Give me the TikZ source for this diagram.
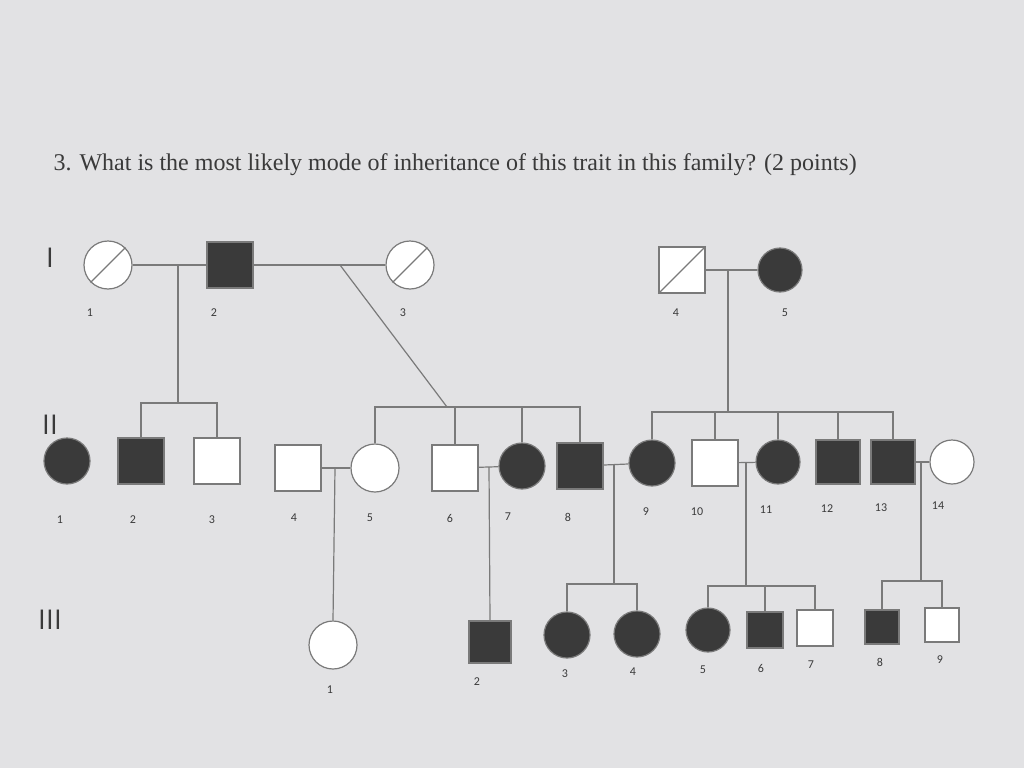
\documentclass[tikz,border=0pt]{standalone}
\usepackage{fontspec}
\setmainfont{Liberation Serif}
\newfontfamily\numfont{Carlito}
\definecolor{paper}{HTML}{E2E2E4}
\definecolor{ink}{HTML}{3A3A3A}
\definecolor{ln}{HTML}{7A7A7A}
\begin{document}
\begin{tikzpicture}[x=1pt,y=-1pt,
  conn/.style={draw=ln,line width=1.2pt},
  sq/.style={draw=ln,line width=1.2pt,fill=white,minimum size=#1,inner sep=0pt,rectangle},
  ci/.style={draw=ln,line width=1.2pt,fill=white,minimum size=#1,inner sep=0pt,circle},
  aff/.style={fill=ink},
  num/.style={font=\numfont\fontsize{12}{13}\selectfont,text=ink},
  gen/.style={font=\sffamily\fontsize{28}{30}\selectfont\color{ink}}]
\fill[paper] (0,0) rectangle (1024,768);
\useasboundingbox (0,0) rectangle (1024,768);
\node[anchor=west,font=\fontsize{24}{28}\selectfont,text=ink] (q) at (50,165) {3. What is the most likely mode of inheritance of this trait in this family? (2 points)};
\node[gen] (g1) at (50,258) {I};
\node[gen] (g2) at (50,425) {II};
\node[gen] (g3) at (50,620) {III};
% Gen I
\node[ci=48] (a1) at (108,265) {};
\node[sq=46,aff] (a2) at (230,265) {};
\node[ci=48] (a3) at (410,265) {};
\node[sq=46] (a4) at (682,270) {};
\node[ci=44,aff] (a5) at (780,270) {};
\draw[ln,line width=1.2pt] (a1.south west) -- (a1.north east);
\draw[ln,line width=1.2pt] (a3.south west) -- (a3.north east);
\draw[ln,line width=1.2pt] (a4.south west) -- (a4.north east);
\foreach \n/\x/\y in {1/90/313,2/214/313,3/403/313,4/676/313,5/785/313} \node[num] (ln\n) at (\x,\y) {\n};
% Gen II
\node[ci=46,aff] (b1) at (67,461) {};
\node[sq=46,aff] (b2) at (141,461) {};
\node[sq=46] (b3) at (217,461) {};
\node[sq=46] (b4) at (298,468) {};
\node[ci=48] (b5) at (375,468) {};
\node[sq=46] (b6) at (455,468) {};
\node[ci=46,aff] (b7) at (522,466) {};
\node[sq=46,aff] (b8) at (580,466) {};
\node[ci=46,aff] (b9) at (652,463) {};
\node[sq=46] (b10) at (715,463) {};
\node[ci=44,aff] (b11) at (778,462) {};
\node[sq=44,aff] (b12) at (838,462) {};
\node[sq=44,aff] (b13) at (893,462) {};
\node[ci=44] (b14) at (952,462) {};
\foreach \n/\x/\y in {1/60/520,2/133/520,3/212/520,4/294/518,5/370/518,6/450/518,7/508/517,8/568/517,9/646/512,10/697/512,11/766/510,12/827/509,13/881/508,14/938/506} \node[num] (lm\n) at (\x,\y) {\n};
% Gen III
\node[ci=48] (c1) at (333,645) {};
\node[sq=42,aff] (c2) at (490,642) {};
\node[ci=46,aff] (c3) at (567,635) {};
\node[ci=46,aff] (c4) at (637,634) {};
\node[ci=44,aff] (c5) at (708,630) {};
\node[sq=36,aff] (c6) at (765,630) {};
\node[sq=36] (c7) at (815,628) {};
\node[sq=34,aff] (c8) at (882,627) {};
\node[sq=34] (c9) at (942,625) {};
\node[num] (lo1) at (330,690) {1};
\node[num] (lo2) at (477,682) {2};
\node[num] (lo3) at (565,674) {3};
\node[num] (lo4) at (633,672) {4};
\node[num] (lo5) at (703,670) {5};
\node[num] (lo6) at (761,668) {6};
\node[num] (lo7) at (811,665) {7};
\node[num] (lo8) at (880,662) {8};
\node[num] (lo9) at (940,660) {9};
% connectors gen I
\draw[conn] (a1) -- (a2);
\draw[conn] (a2) -- (a3);
\draw[conn] (a4) -- (a5);
\coordinate (m12) at (178,265);
\coordinate (s1) at (178,403);
\draw[conn] (m12) -- (s1);
\draw[conn] (b2.north) |- (s1) -| (b3.north);
\coordinate (m23) at (340,265);
\coordinate (s2) at (447,407);
\draw[conn] (m23) -- (s2);
\draw[conn] (b5.north) |- (s2) -| (b8.north);
\draw[conn] (b6.north) -- (b6.north|-s2);
\draw[conn] (b7.north) -- (b7.north|-s2);
\coordinate (m45) at (728,270);
\coordinate (s3) at (728,412);
\draw[conn] (m45) -- (s3);
\draw[conn] (b9.north) |- (s3) -| (b13.north);
\draw[conn] (b10.north) -- (b10.north|-s3);
\draw[conn] (b11.north) -- (b11.north|-s3);
\draw[conn] (b12.north) -- (b12.north|-s3);
% connectors gen II
\draw[conn] (b4) -- (b5);
\draw[conn] (335,468) -- (c1.north);
\draw[conn] (b6) -- (b7);
\draw[conn] (489,467) -- (c2.north);
\draw[conn] (b8) -- (b9);
\draw[conn] (614,465) -- (614,584);
\draw[conn] (c3.north) |- (614,584) -| (c4.north);
\draw[conn] (b10) -- (b11);
\draw[conn] (746,463) -- (746,586);
\draw[conn] (c5.north) |- (746,586) -| (c7.north);
\draw[conn] (c6.north) -- (765,586);
\draw[conn] (b13) -- (b14);
\draw[conn] (921,462) -- (921,581);
\draw[conn] (c8.north) |- (921,581) -| (c9.north);
\end{tikzpicture}
\end{document}
